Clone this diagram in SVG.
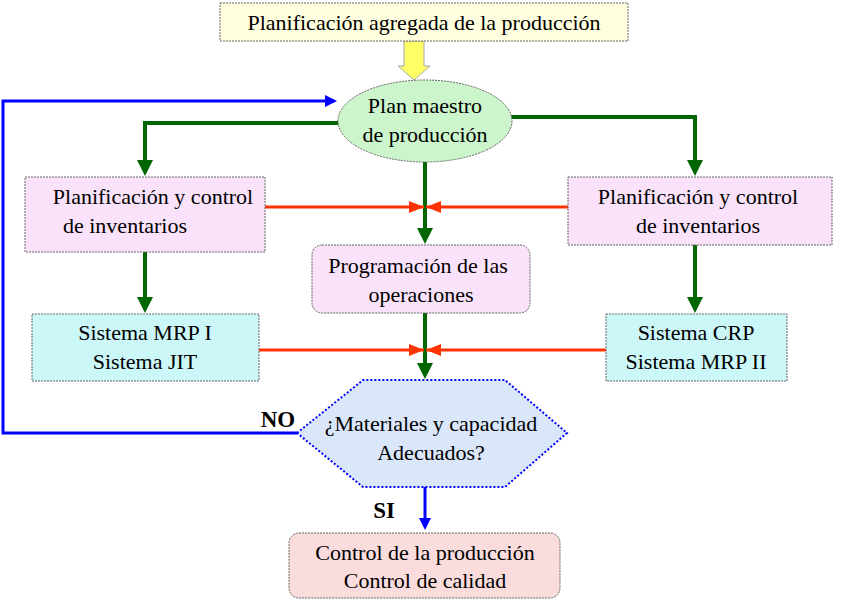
<svg xmlns="http://www.w3.org/2000/svg" width="841" height="606" viewBox="0 0 841 606">
<style>
text{font-family:'Liberation Serif','Times New Roman','DejaVu Serif',serif;font-size:22px;fill:#000;text-anchor:middle}
.b{font-weight:bold;font-size:23px}
.g{stroke:#006600;stroke-width:4;fill:none}
.r{stroke:#ff3300;stroke-width:3;fill:none}
.bl{stroke:#0000ff;stroke-width:3;fill:none}
.box{stroke:#666;stroke-width:1;stroke-dasharray:2 1}
</style>
<defs>
<marker id="mg" markerWidth="4" markerHeight="4" refX="3" refY="2" orient="auto"><path d="M0,0L4,2L0,4z" fill="#006600"/></marker>
<marker id="mr" markerWidth="5" markerHeight="4" refX="5" refY="2" orient="auto"><path d="M0,0L5,2L0,4z" fill="#ff3300"/></marker>
<marker id="mb" markerWidth="4" markerHeight="4" refX="3" refY="2" orient="auto"><path d="M0,0L4,2L0,4z" fill="#0000ff"/></marker>
</defs>
<g id="connectors">
<path class="g" d="M340,123H145V172" marker-end="url(#mg)"/>
<path class="g" d="M510,117H695V172" marker-end="url(#mg)"/>
<path class="g" d="M425,162V240" marker-end="url(#mg)"/>
<path class="g" d="M145,252V309" marker-end="url(#mg)"/>
<path class="g" d="M695,245V309" marker-end="url(#mg)"/>
<path class="g" d="M425,313V375" marker-end="url(#mg)"/>
<path class="r" d="M265,207H424" marker-end="url(#mr)"/>
<path class="r" d="M568,207H426" marker-end="url(#mr)"/>
<path class="r" d="M259,350H424" marker-end="url(#mr)"/>
<path class="r" d="M606,350H426" marker-end="url(#mr)"/>
<path class="bl" d="M297,433H3V101H334" marker-end="url(#mb)"/>
<path class="bl" d="M425,487V527" marker-end="url(#mb)"/>
<polygon points="404,41 424,41 424,66 430,66 414,80 398,66 404,66" fill="#ffff66" stroke="#aaa" stroke-width="1"/>
</g>
<g id="n-agregada"><rect x="220" y="3" width="408" height="38" fill="#ffffe0" class="box"/><text x="424" y="30">Planificación agregada de la producción</text></g>
<g id="n-maestro"><ellipse cx="425" cy="121" rx="87" ry="41" fill="#ccf5cc" class="box"/><text x="425" y="113">Plan maestro</text><text x="425" y="142">de producción</text></g>
<g id="n-inv-l"><rect x="25" y="177" width="240" height="75" fill="#fae3fa" class="box"/><text x="153" y="204">Planificación y control</text><text x="125" y="233">de inventarios</text></g>
<g id="n-inv-r"><rect x="568" y="177" width="264" height="68" fill="#fae3fa" class="box"/><text x="698" y="204">Planificación y control</text><text x="698" y="233">de inventarios</text></g>
<g id="n-prog"><rect x="312" y="245" width="218" height="68" rx="10" fill="#fae3fa" class="box"/><text x="418" y="273">Programación de las</text><text x="421" y="302">operaciones</text></g>
<g id="n-mrp"><rect x="32" y="314" width="227" height="67" fill="#ccf7f9" class="box"/><text x="145" y="340">Sistema MRP I</text><text x="145" y="369">Sistema JIT</text></g>
<g id="n-crp"><rect x="606" y="314" width="181" height="67" fill="#ccf7f9" class="box"/><text x="696" y="340">Sistema CRP</text><text x="696" y="369">Sistema MRP II</text></g>
<g id="n-dec"><polygon points="297,433 363,380 505,380 567,433 505,487 363,487" fill="#dae6fa" stroke="#0000ff" stroke-width="2" stroke-dasharray="2 2"/><text x="431" y="431">¿Materiales y capacidad</text><text x="431" y="460">Adecuados?</text></g>
<g id="n-control"><rect x="289" y="533" width="271" height="65" rx="10" fill="#fadcdc" class="box"/><text x="425" y="560">Control de la producción</text><text x="425" y="588">Control de calidad</text></g>
<text class="b" x="278" y="427">NO</text>
<text class="b" x="384" y="518">SI</text>
</svg>
